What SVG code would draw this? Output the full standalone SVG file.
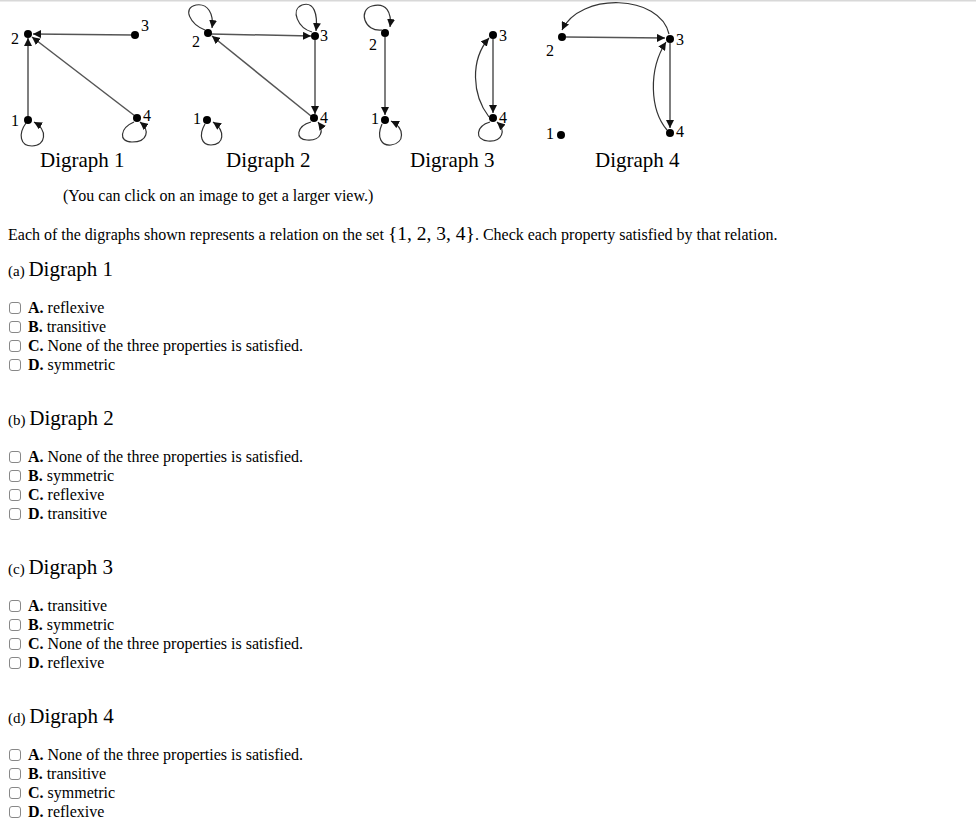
<svg xmlns="http://www.w3.org/2000/svg" width="976" height="840" viewBox="0 0 976 840">
<defs>
<marker id="ah" markerUnits="userSpaceOnUse" markerWidth="9" markerHeight="8" refX="8" refY="4" orient="auto">
<path d="M0,0 L8,4 L0,8 z" fill="#111"/>
</marker>
<style>
.edge{fill:none;stroke:#555;stroke-width:1.5}
.curve{fill:none;stroke:#333;stroke-width:1.2}
.node{fill:#000}
.nl{font-family:"Liberation Serif",serif;font-size:16px;fill:#000}
.cap{font-family:"Liberation Serif",serif;font-size:21px;fill:#000}
.t{font-family:"Liberation Serif",serif;font-size:16px;fill:#000}
.s{font-family:"Liberation Serif",serif;font-size:15px;fill:#000}
.b{font-weight:bold}
.head{font-family:"Liberation Serif",serif;font-size:21px;fill:#000}
.cb{fill:#fff;stroke:#888;stroke-width:1}
</style>
</defs>
<rect x="0" y="0" width="976" height="840" fill="#fff"/>
<rect x="0" y="0" width="976" height="1.5" fill="#d8d8d8"/>

<g id="connectors">
<!-- Digraph 1 -->
<line class="edge" x1="28" y1="118" x2="28" y2="38" marker-end="url(#ah)"/>
<line class="edge" x1="133" y1="35" x2="33" y2="34" marker-end="url(#ah)"/>
<line class="edge" x1="135" y1="116" x2="32" y2="37" marker-end="url(#ah)"/>
<path class="curve" d="M26,123 C18,134 20,146 32,146 C46,146 48,130 34,122" marker-end="url(#ah)"/>
<path class="curve" d="M134,122 C120,128 118,142 132,142 C148,142 150,130 140,122" marker-end="url(#ah)"/>
<!-- Digraph 2 -->
<line class="edge" x1="211" y1="34" x2="311" y2="36" marker-end="url(#ah)"/>
<line class="edge" x1="315" y1="40" x2="315" y2="114" marker-end="url(#ah)"/>
<line class="edge" x1="311" y1="116" x2="212" y2="36" marker-end="url(#ah)"/>
<path class="curve" d="M205,30 C190,24 182,8 196,5 C208,3 214,14 212,28" marker-end="url(#ah)"/>
<path class="curve" d="M312,32 C298,28 290,10 302,5 C314,1 318,14 316,31" marker-end="url(#ah)"/>
<path class="curve" d="M205,124 C198,136 202,145 211,145 C224,145 226,131 213,122" marker-end="url(#ah)"/>
<path class="curve" d="M311,122 C296,126 295,140 307,140 C322,141 324,130 318,122" marker-end="url(#ah)"/>
<!-- Digraph 3 -->
<line class="edge" x1="385" y1="37" x2="385" y2="115" marker-end="url(#ah)"/>
<line class="edge" x1="493" y1="39" x2="493" y2="113" marker-end="url(#ah)"/>
<path class="curve" d="M489,117 C472,95 470,60 489,38" marker-end="url(#ah)"/>
<path class="curve" d="M382,30 C364,32 358,10 372,6 C386,2 392,12 390,27" marker-end="url(#ah)"/>
<path class="curve" d="M382,124 C376,138 382,146 391,145 C405,143 405,128 391,121" marker-end="url(#ah)"/>
<path class="curve" d="M490,122 C476,126 474,140 488,141 C503,142 506,130 497,122" marker-end="url(#ah)"/>
<!-- Digraph 4 -->
<line class="edge" x1="566" y1="37" x2="665" y2="38" marker-end="url(#ah)"/>
<line class="edge" x1="670" y1="43" x2="670" y2="128" marker-end="url(#ah)"/>
<path class="curve" d="M667,130 C650,110 648,70 666,42" marker-end="url(#ah)"/>
<path class="curve" d="M669,34 C660,-6 580,-8 562,30" marker-end="url(#ah)"/>
</g>

<g id="d1-n1"><circle class="node" cx="28" cy="120" r="4"/><text class="nl" x="11" y="126">1</text></g>
<g id="d1-n2"><circle class="node" cx="28" cy="34" r="4"/><text class="nl" x="11" y="44">2</text></g>
<g id="d1-n3"><circle class="node" cx="135" cy="35" r="4"/><text class="nl" x="141" y="31" font-size="14">3</text></g>
<g id="d1-n4"><circle class="node" cx="137" cy="118" r="4"/><text class="nl" x="143" y="121">4</text></g>

<g id="d2-n1"><circle class="node" cx="207" cy="120" r="4"/><text class="nl" x="193" y="124">1</text></g>
<g id="d2-n2"><circle class="node" cx="208" cy="33" r="4"/><text class="nl" x="192" y="47">2</text></g>
<g id="d2-n3"><circle class="node" cx="315" cy="36" r="4"/><text class="nl" x="320" y="41">3</text></g>
<g id="d2-n4"><circle class="node" cx="314" cy="118" r="4"/><text class="nl" x="320" y="123">4</text></g>

<g id="d3-n1"><circle class="node" cx="385" cy="120" r="4"/><text class="nl" x="371" y="124">1</text></g>
<g id="d3-n2"><circle class="node" cx="385" cy="33" r="4"/><text class="nl" x="369" y="50">2</text></g>
<g id="d3-n3"><circle class="node" cx="493" cy="35" r="4"/><text class="nl" x="499" y="41">3</text></g>
<g id="d3-n4"><circle class="node" cx="493" cy="118" r="4"/><text class="nl" x="499" y="123">4</text></g>

<g id="d4-n1"><circle class="node" cx="561" cy="135" r="4"/><text class="nl" x="546" y="139">1</text></g>
<g id="d4-n2"><circle class="node" cx="562" cy="37" r="4"/><text class="nl" x="546" y="56">2</text></g>
<g id="d4-n3"><circle class="node" cx="670" cy="39" r="4"/><text class="nl" x="676" y="45">3</text></g>
<g id="d4-n4"><circle class="node" cx="670" cy="133" r="4"/><text class="nl" x="676" y="137">4</text></g>

<g id="captions">
<text class="cap" x="40" y="167">Digraph 1</text>
<text class="cap" x="226" y="167">Digraph 2</text>
<text class="cap" x="410" y="167">Digraph 3</text>
<text class="cap" x="595" y="167">Digraph 4</text>
</g>

<g id="text">
<text class="t" x="63" y="201">(You can click on an image to get a larger view.)</text>
<text class="t" x="8" y="240">Each of the digraphs shown represents a relation on the set <tspan font-size="19.5">{1, 2, 3, 4}</tspan>. Check each property satisfied by that relation.</text>

<text x="8" y="276"><tspan class="s">(a) </tspan><tspan class="head">Digraph 1</tspan></text>
<rect class="cb" x="9.5" y="302.5" width="11" height="11" rx="2.5"/><text class="t" x="28" y="313"><tspan class="b">A.</tspan> reflexive</text>
<rect class="cb" x="9.5" y="321.5" width="11" height="11" rx="2.5"/><text class="t" x="28" y="332"><tspan class="b">B.</tspan> transitive</text>
<rect class="cb" x="9.5" y="340.5" width="11" height="11" rx="2.5"/><text class="t" x="28" y="351"><tspan class="b">C.</tspan> None of the three properties is satisfied.</text>
<rect class="cb" x="9.5" y="359.5" width="11" height="11" rx="2.5"/><text class="t" x="28" y="370"><tspan class="b">D.</tspan> symmetric</text>

<text x="8" y="425"><tspan class="s">(b) </tspan><tspan class="head">Digraph 2</tspan></text>
<rect class="cb" x="9.5" y="451.5" width="11" height="11" rx="2.5"/><text class="t" x="28" y="462"><tspan class="b">A.</tspan> None of the three properties is satisfied.</text>
<rect class="cb" x="9.5" y="470.5" width="11" height="11" rx="2.5"/><text class="t" x="28" y="481"><tspan class="b">B.</tspan> symmetric</text>
<rect class="cb" x="9.5" y="489.5" width="11" height="11" rx="2.5"/><text class="t" x="28" y="500"><tspan class="b">C.</tspan> reflexive</text>
<rect class="cb" x="9.5" y="508.5" width="11" height="11" rx="2.5"/><text class="t" x="28" y="519"><tspan class="b">D.</tspan> transitive</text>

<text x="8" y="574"><tspan class="s">(c) </tspan><tspan class="head">Digraph 3</tspan></text>
<rect class="cb" x="9.5" y="600.5" width="11" height="11" rx="2.5"/><text class="t" x="28" y="611"><tspan class="b">A.</tspan> transitive</text>
<rect class="cb" x="9.5" y="619.5" width="11" height="11" rx="2.5"/><text class="t" x="28" y="630"><tspan class="b">B.</tspan> symmetric</text>
<rect class="cb" x="9.5" y="638.5" width="11" height="11" rx="2.5"/><text class="t" x="28" y="649"><tspan class="b">C.</tspan> None of the three properties is satisfied.</text>
<rect class="cb" x="9.5" y="657.5" width="11" height="11" rx="2.5"/><text class="t" x="28" y="668"><tspan class="b">D.</tspan> reflexive</text>

<text x="8" y="723"><tspan class="s">(d) </tspan><tspan class="head">Digraph 4</tspan></text>
<rect class="cb" x="9.5" y="749.5" width="11" height="11" rx="2.5"/><text class="t" x="28" y="760"><tspan class="b">A.</tspan> None of the three properties is satisfied.</text>
<rect class="cb" x="9.5" y="768.5" width="11" height="11" rx="2.5"/><text class="t" x="28" y="779"><tspan class="b">B.</tspan> transitive</text>
<rect class="cb" x="9.5" y="787.5" width="11" height="11" rx="2.5"/><text class="t" x="28" y="798"><tspan class="b">C.</tspan> symmetric</text>
<rect class="cb" x="9.5" y="806.5" width="11" height="11" rx="2.5"/><text class="t" x="28" y="817"><tspan class="b">D.</tspan> reflexive</text>
</g>
</svg>
